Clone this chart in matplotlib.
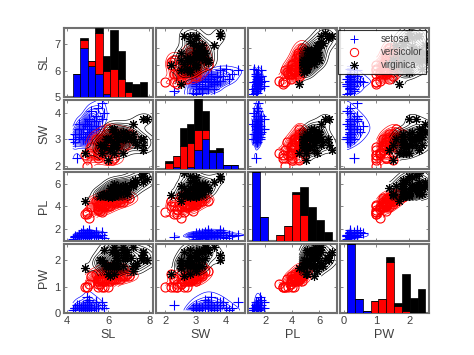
import numpy as np
import matplotlib
matplotlib.use('Agg')
import matplotlib.pyplot as plt
from matplotlib.lines import Line2D

# Fisher iris data, one list per species and measurement
setosa_sl = [5.1,4.9,4.7,4.6,5.0,5.4,4.6,5.0,4.4,4.9,5.4,4.8,4.8,4.3,5.8,5.7,5.4,5.1,5.7,5.1,5.4,5.1,4.6,5.1,4.8,
             5.0,5.0,5.2,5.2,4.7,4.8,5.4,5.2,5.5,4.9,5.0,5.5,4.9,4.4,5.1,5.0,4.5,4.4,5.0,5.1,4.8,5.1,4.6,5.3,5.0]
setosa_sw = [3.5,3.0,3.2,3.1,3.6,3.9,3.4,3.4,2.9,3.1,3.7,3.4,3.0,3.0,4.0,4.4,3.9,3.5,3.8,3.8,3.4,3.7,3.6,3.3,3.4,
             3.0,3.4,3.5,3.4,3.2,3.1,3.4,4.1,4.2,3.1,3.2,3.5,3.6,3.0,3.4,3.5,2.3,3.2,3.5,3.8,3.0,3.8,3.2,3.7,3.3]
setosa_pl = [1.4,1.4,1.3,1.5,1.4,1.7,1.4,1.5,1.4,1.5,1.5,1.6,1.4,1.1,1.2,1.5,1.3,1.4,1.7,1.5,1.7,1.5,1.0,1.7,1.9,
             1.6,1.6,1.5,1.4,1.6,1.6,1.5,1.5,1.4,1.5,1.2,1.3,1.4,1.3,1.5,1.3,1.3,1.3,1.6,1.9,1.4,1.6,1.4,1.5,1.4]
setosa_pw = [0.2,0.2,0.2,0.2,0.2,0.4,0.3,0.2,0.2,0.1,0.2,0.2,0.1,0.1,0.2,0.4,0.4,0.3,0.3,0.3,0.2,0.4,0.2,0.5,0.2,
             0.2,0.4,0.2,0.2,0.2,0.2,0.4,0.1,0.2,0.2,0.2,0.2,0.1,0.2,0.2,0.3,0.3,0.2,0.6,0.4,0.3,0.2,0.2,0.2,0.2]

vers_sl = [7.0,6.4,6.9,5.5,6.5,5.7,6.3,4.9,6.6,5.2,5.0,5.9,6.0,6.1,5.6,6.7,5.6,5.8,6.2,5.6,5.9,6.1,6.3,6.1,6.4,
           6.6,6.8,6.7,6.0,5.7,5.5,5.5,5.8,6.0,5.4,6.0,6.7,6.3,5.6,5.5,5.5,6.1,5.8,5.0,5.6,5.7,5.7,6.2,5.1,5.7]
vers_sw = [3.2,3.2,3.1,2.3,2.8,2.8,3.3,2.4,2.9,2.7,2.0,3.0,2.2,2.9,2.9,3.1,3.0,2.7,2.2,2.5,3.2,2.8,2.5,2.8,2.9,
           3.0,2.8,3.0,2.9,2.6,2.4,2.4,2.7,2.7,3.0,3.4,3.1,2.3,3.0,2.5,2.6,3.0,2.6,2.3,2.7,3.0,2.9,2.9,2.5,2.8]
vers_pl = [4.7,4.5,4.9,4.0,4.6,4.5,4.7,3.3,4.6,3.9,3.5,4.2,4.0,4.7,3.6,4.4,4.5,4.1,4.5,3.9,4.8,4.0,4.9,4.7,4.3,
           4.4,4.8,5.0,4.5,3.5,3.8,3.7,3.9,5.1,4.5,4.5,4.7,4.4,4.1,4.0,4.4,4.6,4.0,3.3,4.2,4.2,4.2,4.3,3.0,4.1]
vers_pw = [1.4,1.5,1.5,1.3,1.5,1.3,1.6,1.0,1.3,1.4,1.0,1.5,1.0,1.4,1.3,1.4,1.5,1.0,1.5,1.1,1.8,1.3,1.5,1.2,1.3,
           1.4,1.4,1.7,1.5,1.0,1.1,1.0,1.2,1.6,1.5,1.6,1.5,1.3,1.3,1.3,1.2,1.4,1.2,1.0,1.3,1.2,1.3,1.3,1.1,1.3]

virg_sl = [6.3,5.8,7.1,6.3,6.5,7.6,4.9,7.3,6.7,7.2,6.5,6.4,6.8,5.7,5.8,6.4,6.5,7.7,7.7,6.0,6.9,5.6,7.7,6.3,6.7,
           7.2,6.2,6.1,6.4,7.2,7.4,7.9,6.4,6.3,6.1,7.7,6.3,6.4,6.0,6.9,6.7,6.9,5.8,6.8,6.7,6.7,6.3,6.5,6.2,5.9]
virg_sw = [3.3,2.7,3.0,2.9,3.0,3.0,2.5,2.9,2.5,3.6,3.2,2.7,3.0,2.5,2.8,3.2,3.0,3.8,2.6,2.2,3.2,2.8,2.8,2.7,3.3,
           3.2,2.8,3.0,2.8,3.0,2.8,3.8,2.8,2.8,2.6,3.0,3.4,3.1,3.0,3.1,3.1,3.1,2.7,3.2,3.3,3.0,2.5,3.0,3.4,3.0]
virg_pl = [6.0,5.1,5.9,5.6,5.8,6.6,4.5,6.3,5.8,6.1,5.1,5.3,5.5,5.0,5.1,5.3,5.5,6.7,6.9,5.0,5.7,4.9,6.7,4.9,5.7,
           6.0,4.8,4.9,5.6,5.8,6.1,6.4,5.6,5.1,5.6,6.1,5.6,5.5,4.8,5.4,5.6,5.1,5.1,5.9,5.7,5.2,5.0,5.2,5.4,5.1]
virg_pw = [2.5,1.9,2.1,1.8,2.2,2.1,1.7,1.8,1.8,2.5,2.0,1.9,2.1,2.0,2.4,2.3,1.8,2.2,2.3,1.5,2.3,2.0,2.0,1.8,2.1,
           1.8,1.8,1.8,2.1,1.6,1.9,2.0,2.2,1.5,1.4,2.3,2.4,1.8,1.8,2.1,2.4,2.3,1.9,2.3,2.5,2.3,1.9,2.0,2.3,1.8]

var_names = ['SL', 'SW', 'PL', 'PW']
species = ['setosa', 'versicolor', 'virginica']
groups = [
    [setosa_sl, setosa_sw, setosa_pl, setosa_pw],
    [vers_sl, vers_sw, vers_pl, vers_pw],
    [virg_sl, virg_sw, virg_pl, virg_pw],
]

# axis setup
col_lims = [(3.85, 8.17), (1.67, 4.64), (0.7, 7.3), (-0.13, 2.61)]
row_lims = [(4.15, 8.2), (1.87, 4.53), (0.93, 7.07), (0.0, 2.64)]
col_ticks = [[4, 6, 8], [2, 3, 4], [2, 4, 6], [0, 1, 2]]
row_ticks = [[5, 6, 7], [2, 3, 4], [2, 4, 6], [0, 1, 2]]
corner_ylim = (5.0, 7.63)  # top-left diagonal axis keeps its own limits

colors = ['#0000ff', '#ff0000', '#000000']
markers = ['+', 'o', (8, 2, 0)]
frame_col = '#707070'
text_col = '#404040'

plt.rcParams['font.family'] = ['Liberation Sans', 'DejaVu Sans']


def log_bw(t):
    # robust bandwidth (MAD, falls back to the range when MAD is zero)
    sig = np.median(np.abs(t - np.median(t))) / 0.6745
    if sig <= 0:
        sig = 0.7 * (t.max() - t.min())
    return 1.15 * sig * len(t) ** (-1 / 6)


def kde_contour(ax, x, y, color):
    # density with positive support: kernel on log scale, grid starts at the data minimum
    u, v = np.log(x), np.log(y)
    bu, bv = log_bw(u), log_bw(v)
    gu = np.linspace(u.min(), u.max() + 3 * bu, 100)
    gv = np.linspace(v.min(), v.max() + 3 * bv, 100)
    U, V = np.meshgrid(gu, gv)
    g = np.zeros_like(U)
    for ui, vi in zip(u, v):
        g += np.exp(-0.5 * ((U - ui) / bu) ** 2 - 0.5 * ((V - vi) / bv) ** 2)
    X, Y = np.exp(U), np.exp(V)
    f = g / (X * Y)
    lev = np.linspace(0, f.max(), 16)[1:-1]
    ax.contour(X, Y, f, levels=lev, colors=color, linewidths=0.45)


fig = plt.figure(figsize=(4.74, 3.55), dpi=100)
W, H = 474.0, 355.0
left, top = 63.5, 27.5
pw, ph, gap = 89.5, 69.5, 2.5

axes = [[None] * 4 for _ in range(4)]
for r in range(4):
    for c in range(4):
        x0 = left + c * (pw + gap)
        y0 = top + r * (ph + gap)
        ax = fig.add_axes([x0 / W, 1 - (y0 + ph) / H, pw / W, ph / H])
        axes[r][c] = ax
        ax.set_xlim(col_lims[c])
        ax.set_ylim(row_lims[r])
        ax.set_xticks(col_ticks[c])
        ax.set_yticks(row_ticks[r])
        ax.tick_params(direction='in', length=2, width=0.6, top=True, right=True,
                       colors=frame_col, labelcolor=text_col, labelsize=8, pad=2)
        for s in ax.spines.values():
            s.set_color(frame_col)
            s.set_linewidth(1.5)
        if r < 3:
            ax.set_xticklabels([])
        else:
            ax.set_xlabel(var_names[c], fontsize=9, color=text_col, labelpad=2)
        if c > 0:
            ax.set_yticklabels([])
        else:
            ax.set_ylabel(var_names[r], fontsize=9, color=text_col, labelpad=3)

        if r == c:
            # stacked histogram on the diagonal
            allv = np.concatenate([np.asarray(g[c]) for g in groups])
            edges = np.linspace(allv.min(), allv.max(), 11)
            hx = ax.twinx()
            hx.set_xlim(col_lims[c])
            bottom = np.zeros(10)
            for gi, g in enumerate(groups):
                cnt, _ = np.histogram(g[c], bins=edges)
                hx.bar(edges[:-1], cnt, width=np.diff(edges), align='edge', bottom=bottom,
                       color=colors[gi], edgecolor='k', linewidth=0.5)
                bottom = bottom + cnt
            hx.set_ylim(0, bottom.max())
            hx.set_yticks([])
            for s in hx.spines.values():
                s.set_visible(False)
            if r == 0:
                ax.set_ylim(corner_ylim)
                ax.set_yticks(row_ticks[0])
            continue

        for gi, g in enumerate(groups):
            xs = np.asarray(g[c])
            ys = np.asarray(g[r])
            ax.plot(xs, ys, linestyle='none', marker=markers[gi], color=colors[gi],
                    markerfacecolor='none', markersize=6.5, markeredgewidth=0.8)
            kde_contour(ax, xs, ys, colors[gi])
        ax.set_xlim(col_lims[c])
        ax.set_ylim(row_lims[r])

handles = [Line2D([], [], linestyle='none', marker=markers[i], color=colors[i],
                  markerfacecolor='none', markersize=6, markeredgewidth=0.7) for i in range(3)]
leg = axes[0][3].legend(handles, species, loc='upper right', fontsize=7, frameon=True,
                        fancybox=False, borderaxespad=0.3, handlelength=2.5, handletextpad=1.5,
                        labelspacing=0.3, borderpad=0.4)
leg.get_frame().set_edgecolor('k')
leg.get_frame().set_linewidth(0.8)
for t in leg.get_texts():
    t.set_color(text_col)

fig.savefig('out.png', dpi=100)
